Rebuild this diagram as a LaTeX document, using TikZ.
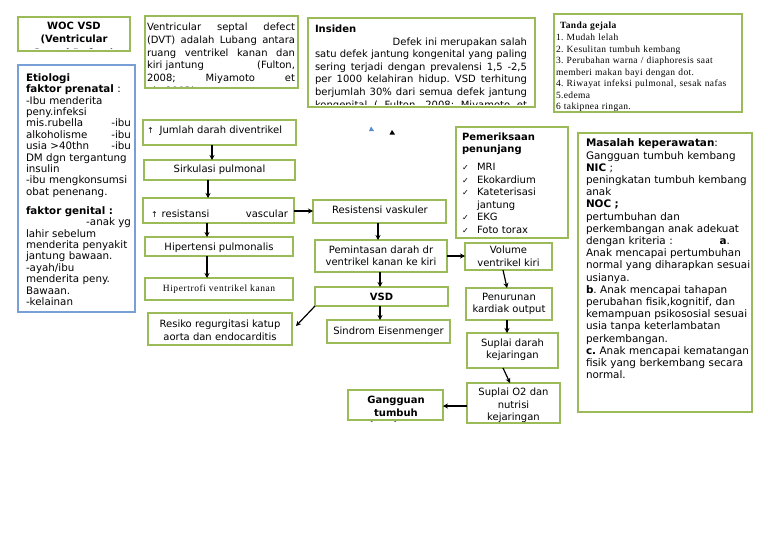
\documentclass[tikz,border=0pt]{standalone}
\usepackage{fontspec}
\setmainfont{DejaVu Sans}
\newfontfamily\tnr[LetterSpace=4]{Liberation Serif}
\newfontfamily\tnrw[LetterSpace=6]{Liberation Serif}
\usetikzlibrary{arrows.meta}
\definecolor{gb}{RGB}{155,187,89}
\definecolor{bb}{RGB}{120,160,215}
\definecolor{mkblue}{RGB}{90,140,210}
\frenchspacing
\newcommand\jl[2]{\makebox[#1][s]{\spaceskip=.32em plus 1fil\xspaceskip=0pt #2}}
\newcommand\fs[2]{\fontsize{#1}{#2}\selectfont}
\newcommand\bx[6]{\node[#1, minimum width={#4-#2}, minimum height={#5-#3}] (#6) at (#2,#3) {};}
\begin{document}
\begin{tikzpicture}[x=1pt,y=-1pt,
  every node/.style={inner sep=0pt, outer sep=0pt},
  gbox/.style={draw=gb, line width=1.3pt, anchor=north west},
  bbox/.style={draw=bb, line width=1.3pt, anchor=north west},
  tx/.style={anchor=north west, align=left},
  ct/.style={align=center, font=\fs{10}{12.5}},
  arr/.style={draw=black, line width=1.2pt, -{Stealth[length=5pt,width=5pt]}},
]
\useasboundingbox (0,0) rectangle (768,543);
\fill[white] (0,0) rectangle (768,543);

% ---------- boxes ----------
\bx{gbox}{18}{17}{130}{51}{woc}
\bx{bbox}{18}{65}{135}{312}{etio}
\bx{gbox}{145}{16}{298}{88}{vsddef}
\bx{gbox}{308}{18}{535}{107}{insid}
\bx{gbox}{554}{14}{742}{112}{tanda}
\bx{gbox}{578}{133}{752}{412}{masal}
\bx{gbox}{143}{120}{296}{145}{jum}
\bx{gbox}{144}{160}{295}{180}{sirk}
\bx{gbox}{143}{198}{294}{223}{resis}
\bx{gbox}{145}{237}{293}{256}{hipten}
\bx{gbox}{145}{278}{293}{300}{hiptro}
\bx{gbox}{148}{313}{292}{345}{resiko}
\bx{gbox}{313}{200}{446}{223}{resv}
\bx{gbox}{315}{240}{447}{272}{pemint}
\bx{gbox}{315}{287}{448}{306}{vsd}
\bx{gbox}{327}{320}{450}{343}{sind}
\bx{gbox}{456}{127}{568}{238}{pemer}
\bx{gbox}{465}{243}{552}{270}{vol}
\bx{gbox}{466}{288}{552}{320}{penur}
\bx{gbox}{467}{333}{558}{368}{supd}
\bx{gbox}{467}{383}{560}{423}{supo}
\bx{gbox}{348}{390}{443}{420}{gang}

% ---------- clipped text boxes ----------
\begin{scope}
\clip (19,18) rectangle (129,48.6);
\node[ct, font=\bfseries\fs{10}{13.3}, anchor=north] (t-woc) at (74,22) {WOC VSD\\(Ventricular\\Septal Defect)};
\end{scope}

\begin{scope}
\clip (19,66) rectangle (134,311);
\node[tx, text width=108pt, font=\fs{10.3}{11.4}] (t-etio) at (26,73.4) {\rule{0pt}{7.6pt}\textbf{Etiologi}\\
\textbf{faktor prenatal} :\\
-Ibu menderita\\
peny.infeksi\\
\jl{105pt}{mis.rubella\hfill -ibu}\\
\jl{105pt}{alkoholisme\hfill -ibu}\\
\jl{105pt}{usia >40thn\hfill -ibu}\\
DM dgn tergantung\\
insulin\\
-ibu mengkonsumsi\\
obat penenang.\\[7.6pt]
\textbf{faktor genital :}\\
\jl{105pt}{\hfill -anak yg}\\
lahir sebelum\\
menderita penyakit\\
jantung bawaan.\\
-ayah/ibu\\
menderita peny.\\
Bawaan.\\
-kelainan};
\end{scope}

\begin{scope}
\clip (146,17) rectangle (297,86.3);
\node[tx, text width=148pt, font=\fs{10}{12.6}] (t-vsddef) at (147,23.4) {\rule{0pt}{7.6pt}\jl{148pt}{Ventricular septal defect}\\
\jl{148pt}{(DVT) adalah Lubang antara}\\
\jl{148pt}{ruang ventrikel kanan dan}\\
\jl{148pt}{kiri jantung\hfill (Fulton,}\\
\jl{148pt}{2008;\hfill Miyamoto\hfill et}\\
al., 2003)};
\end{scope}

\begin{scope}
\clip (309,19) rectangle (534,104.5);
\node[tx, text width=212pt, font=\fs{10}{12.6}] (t-insid) at (315,24.9) {\rule{0pt}{7.6pt}\textbf{Insiden}\\
\jl{212pt}{\hfill Defek ini merupakan salah}\\
\jl{212pt}{satu defek jantung kongenital yang paling}\\
\jl{212pt}{sering terjadi dengan prevalensi 1,5 -2,5}\\
\jl{212pt}{per 1000 kelahiran hidup. VSD terhitung}\\
\jl{212pt}{berjumlah 30\% dari semua defek jantung}\\
\jl{212pt}{kongenital ( Fulton, 2008; Miyamoto et}};
\end{scope}

\node[tx, text width=185pt, font=\tnr\fs{9.5}{11.57}] (t-tanda) at (556,22.4) {\rule{0pt}{6.6pt}\hspace{4pt}\textbf{Tanda gejala}\\
1. Mudah lelah\\
2. Kesulitan tumbuh kembang\\
3. Perubahan warna / diaphoresis saat\\
memberi makan bayi dengan dot.\\
4. Riwayat infeksi pulmonal, sesak nafas\\
5.edema\\
6 takipnea ringan.};

\node[tx, text width=170pt, font=\fs{10.4}{12.2}] (t-masal) at (586,138.9) {\rule{0pt}{7.6pt}\textbf{Masalah keperawatan}:\\
Gangguan tumbuh kembang\\
\textbf{NIC} ;\\
peningkatan tumbuh kembang\\
anak\\
\textbf{NOC ;}\\
pertumbuhan dan\\
perkembangan anak adekuat\\
\makebox[144pt][l]{dengan kriteria :\hfill\textbf{a}.}\\
Anak mencapai pertumbuhan\\
normal yang diharapkan sesuai\\
usianya.\\
\textbf{b}. Anak mencapai tahapan\\
perubahan fisik,kognitif, dan\\
kemampuan psikososial sesuai\\
usia tanpa keterlambatan\\
perkembangan.\\
\textbf{c.} Anak mencapai kematangan\\
fisik yang berkembang secara\\
normal.};

\node[tx, text width=105pt, font=\bfseries\fs{10}{12.5}] (t-pemer) at (462,132.4) {\rule{0pt}{7.6pt}Pemeriksaan\\penunjang};
\node[tx, text width=105pt, font=\fs{10}{12.6}] (t-pemeritems) at (462,162.9) {\rule{0pt}{7.6pt}\makebox[15pt][l]{\fs{8}{8}✓}MRI\\
\makebox[15pt][l]{\fs{8}{8}✓}Ekokardium\\
\makebox[15pt][l]{\fs{8}{8}✓}Kateterisasi\\
\makebox[15pt][l]{}jantung\\
\makebox[15pt][l]{\fs{8}{8}✓}EKG\\
\makebox[15pt][l]{\fs{8}{8}✓}Foto torax};

% ---------- flow texts ----------
\node[anchor=base west, font=\fs{10}{12}] (t-jum) at (147,133) {{\fs{8}{8}↑}\hspace{6pt}Jumlah darah diventrikel};
\node[ct] (t-sirk) at (sirk.center) {Sirkulasi pulmonal};
\node[anchor=base west, font=\fs{10}{12}] (t-resis) at (151,217.5) {\makebox[137pt][s]{{\fs{8}{8}↑}\hspace{4pt}resistansi\hfill vascular}};
\node[ct] (t-hipten) at ([yshift=-1pt]hipten.center) {Hipertensi pulmonalis};
\node[ct, font=\tnrw\fs{9.5}{11}] (t-hiptro) at (hiptro.center) {Hipertrofi ventrikel kanan};
\node[ct] (t-resiko) at ([yshift=-1.5pt]resiko.center) {Resiko regurgitasi katup\\aorta dan endocarditis};
\node[anchor=base, font=\fs{10}{12}] (t-resv) at (380,213) {Resistensi vaskuler};
\node[ct] (t-pemint) at (pemint.center) {Pemintasan darah dr\\ventrikel kanan ke kiri};
\node[ct, font=\bfseries\fs{10}{12}] (t-vsd) at (vsd.center) {VSD};
\node[ct] (t-sind) at ([yshift=-0.5pt]sind.center) {Sindrom Eisenmenger};
\node[ct] (t-vol) at (vol.center) {Volume\\ventrikel kiri};
\node[ct] (t-penur) at (penur.center) {Penurunan\\kardiak output};
\node[ct] (t-supd) at ([yshift=1pt]supd.center) {Suplai darah\\kejaringan};
\node[ct] (t-supo) at ([yshift=-2.5pt]supo.center) {Suplai O2 dan\\nutrisi\\kejaringan};
\begin{scope}
\clip (349,391) rectangle (442,421);
\node[ct, font=\bfseries\fs{10}{12.8}, anchor=north] (t-gang) at (396,396) {Gangguan\\tumbuh\\kembang};
\end{scope}

% ---------- connectors ----------
\draw[arr] (jum.south -| 212,0) -- (sirk.north -| 212,0);
\draw[arr] (sirk.south -| 208,0) -- (resis.north -| 208,0);
\draw[arr] (resis.south -| 207,0) -- (hipten.north -| 207,0);
\draw[arr] (hipten.south -| 207,0) -- (hiptro.north -| 207,0);
\draw[arr] (resis.east |- 0,211) -- (resv.west |- 0,211);
\draw[arr] (resv.south -| 378,0) -- (pemint.north -| 378,0);
\draw[arr] (pemint.south -| 380,0) -- (vsd.north -| 380,0);
\draw[arr] (vsd.south -| 380,0) -- (sind.north -| 380,0);
\draw[arr] (vsd.south west) -- ([shift={(4,-3)}]resiko.east);
\draw[arr] (pemint.east |- 0,256) -- (vol.west |- 0,256);
\draw[arr] (vol.south -| 503,0) -- (penur.north -| 507,0);
\draw[arr] (penur.south -| 507,0) -- (supd.north -| 507,0);
\draw[arr] (supd.south -| 503,0) -- (supo.north -| 510,0);
\draw[arr] (supo.west |- 0,406) -- (gang.east |- 0,406);

% ---------- stray marks ----------
\fill[mkblue] (371,126.5) -- (374,131) -- (369,131) -- cycle;
\fill[black] (392,130) -- (395,134.5) -- (389.5,134.5) -- cycle;
\end{tikzpicture}
\end{document}
